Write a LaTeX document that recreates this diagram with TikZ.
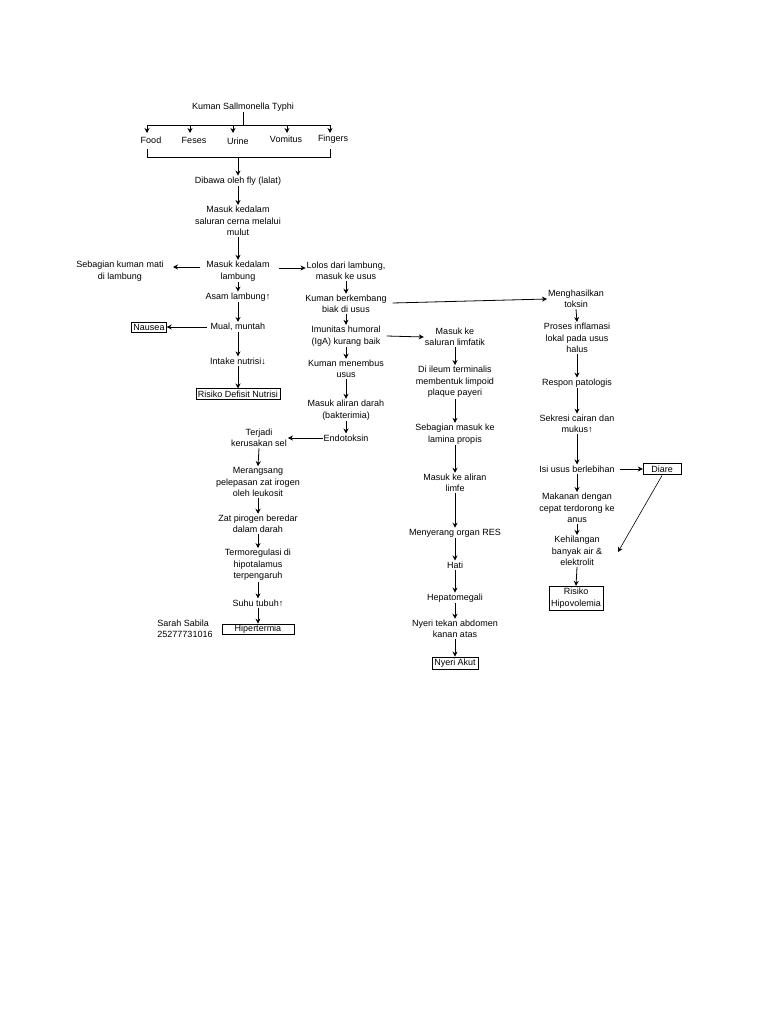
\documentclass[tikz,border=0pt]{standalone}
\usepackage{fontspec}
\setmainfont{Liberation Sans}
\usetikzlibrary{arrows.meta}
\begin{document}
\begin{tikzpicture}[x=1pt,y=-1pt,
  t/.style={font=\fontsize{9}{11.5}\selectfont,align=center,inner sep=1pt},
  bx/.style={t,draw,inner sep=2pt},
  ar/.style={-{Stealth[length=5pt,width=5pt]},thick},
  ln/.style={thick}]
\useasboundingbox (0,0) rectangle (768,1024);
\node[t] (kst) at (243,107) {Kuman Sallmonella Typhi};
\coordinate (h0) at (243,125);
\coordinate (h1) at (147,125);\coordinate (h5) at (330,125);
\node[t] (food) at (151,140) {Food};
\node[t] (feses) at (194,140) {Feses};
\node[t] (urine) at (238,141) {Urine};
\node[t] (vom) at (286,139) {Vomitus};
\node[t] (fing) at (333,139) {Fingers};
\draw[ln] (kst.south) -- (h0);
\draw[ln] (h1) -- (h5);
\foreach \x in {147,190,233,287,330} \draw[ar] (\x,125) -- (\x,133);
\coordinate (b1) at (147,149);\coordinate (b2) at (147,157);
\coordinate (b3) at (330,157);\coordinate (b4) at (330,149);
\coordinate (bm) at (238,157);
\draw[ln] (b1) -- (b2) -- (b3) -- (b4);
\node[t] (fly) at (238,181) {Dibawa oleh fly (lalat)};
\draw[ar] (bm) -- (fly.north);
\node[t] (mulut) at (238,221) {Masuk kedalam\\saluran cerna melalui\\mulut};
\draw[ar] (fly.south) -- (mulut.north);
\node[t] (lamb) at (238,271) {Masuk kedalam\\lambung};
\draw[ar] (mulut.south) -- (lamb.north);
\node[t] (mati) at (120,271) {Sebagian kuman mati\\di lambung};
\draw[ar] (lamb.west|-238,267) ++(-5,0) -- (173,267) coordinate (ma);
\node[t] (lolos) at (346,271) {Lolos dari lambung,\\masuk ke usus};
\draw[ar] (279,268) -- (lolos.west|-0,268);
\node[t] (asam) at (238,297) {Asam lambung↑};
\draw[ar] (lamb.south) -- (asam.north);
\node[t] (mual) at (238,327) {Mual, muntah};
\draw[ar] (asam.south) -- (mual.north);
\node[bx] (naus) at (149,327) {Nausea};
\draw[ar] (mual.west) ++(-3,0) -- (naus.east);
\node[t] (intake) at (238,361) {Intake nutrisi↓};
\draw[ar] (mual.south) -- (intake.north);
\node[bx] (rdn) at (238,394) {Risiko Defisit Nutrisi};
\draw[ar] (intake.south) -- (rdn.north);
% middle column
\node[t] (kb) at (346,304) {Kuman berkembang\\biak di usus};
\draw[ar] (lolos.south) -- (kb.north);
\node[t] (imun) at (346,336) {Imunitas humoral\\(IgA) kurang baik};
\draw[ar] (kb.south) -- (imun.north);
\node[t] (tembus) at (346,369) {Kuman menembus\\usus};
\draw[ar] (imun.south) -- (tembus.north);
\node[t] (darah) at (346,410) {Masuk aliran darah\\(bakterimia)};
\draw[ar] (tembus.south) -- (darah.north);
\node[t] (endo) at (346,438) {Endotoksin};
\draw[ar] (darah.south) -- (endo.north);
\node[t] (rusak) at (259,438) {Terjadi\\kerusakan sel};
\draw[ar] (endo.west) -- (rusak.east);
\node[t] (merang) at (258,482) {Merangsang\\pelepasan zat irogen\\oleh leukosit};
\draw[ar] (rusak.south) -- (merang.north);
\node[t] (zat) at (258,524) {Zat pirogen beredar\\dalam darah};
\draw[ar] (merang.south) -- (zat.north);
\node[t] (termo) at (258,565) {Termoregulasi di\\hipotalamus\\terpengaruh};
\draw[ar] (zat.south) -- (termo.north);
\node[t] (suhu) at (258,603) {Suhu tubuh↑};
\draw[ar] (termo.south) -- (suhu.north);
\node[bx,minimum width=72pt,inner ysep=1pt] (hiper) at (258,629) {Hipertermia};
\draw[ar] (suhu.south) -- (hiper.north);
\node[t,align=left] (sarah) at (185,629) {Sarah Sabila\\25277731016};
% lymph column
\node[t] (limf) at (455,337) {Masuk ke\\saluran limfatik};
\draw[ar] (imun.east) ++(5,0) -- (limf.west);
\node[t] (ileum) at (455,382) {Di ileum terminalis\\membentuk limpoid\\plaque payeri};
\draw[ar] (limf.south) -- (ileum.north);
\node[t] (lamina) at (455,434) {Sebagian masuk ke\\lamina propis};
\draw[ar] (ileum.south) -- (lamina.north);
\node[t] (limfe) at (455,483) {Masuk ke aliran\\limfe};
\draw[ar] (lamina.south) -- (limfe.north);
\node[t] (res) at (455,533) {Menyerang organ RES};
\draw[ar] (limfe.south) -- (res.north);
\node[t] (hati) at (455,565) {Hati};
\draw[ar] (res.south) -- (hati.north);
\node[t] (hepa) at (455,598) {Hepatomegali};
\draw[ar] (hati.south) -- (hepa.north);
\node[t] (nyeri) at (455,629) {Nyeri tekan abdomen\\kanan atas};
\draw[ar] (hepa.south) -- (nyeri.north);
\node[bx] (akut) at (455,663) {Nyeri Akut};
\draw[ar] (nyeri.south) -- (akut.north);
% right column
\node[t] (toksin) at (576,299) {Menghasilkan\\toksin};
\draw[ar] (kb.east) ++(5,-1) -- (toksin.west);
\node[t] (inflam) at (577,338) {Proses inflamasi\\lokal pada usus\\halus};
\draw[ar] (toksin.south) -- (inflam.north);
\node[t] (respon) at (577,383) {Respon patologis};
\draw[ar] (inflam.south) -- (respon.north);
\node[t] (sekresi) at (577,424) {Sekresi cairan dan\\mukus↑};
\draw[ar] (respon.south) -- (sekresi.north);
\node[t] (isi) at (577,469) {Isi usus berlebihan};
\draw[ar] (sekresi.south) -- (isi.north);
\node[bx,minimum width=38pt] (diare) at (662,469) {Diare};
\draw[ar] (isi.east) ++(4,0) -- (diare.west);
\node[t] (makan) at (577,508) {Makanan dengan\\cepat terdorong ke\\anus};
\draw[ar] (isi.south) -- (makan.north);
\node[t] (hilang) at (577,551) {Kehilangan\\banyak air \&\\elektrolit};
\draw[ar] (makan.south) -- (hilang.north);
\draw[ar,semithick] (diare.south) ++(0,1) -- (618,552);
\node[bx] (hipo) at (576,598) {Risiko\\Hipovolemia};
\draw[ar] (hilang.south) -- (hipo.north);
\end{tikzpicture}
\end{document}
